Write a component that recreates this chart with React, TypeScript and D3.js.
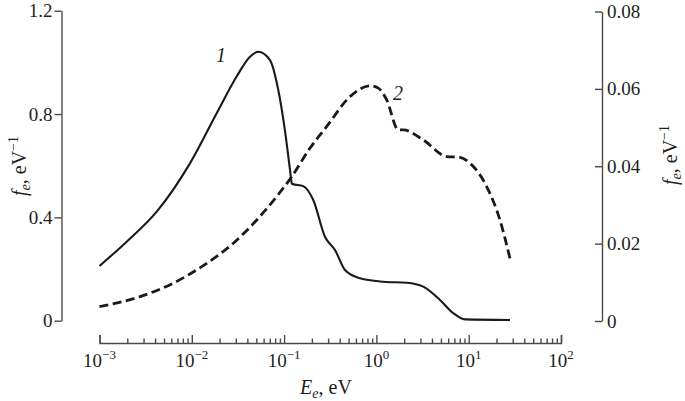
import React, { useEffect, useRef } from 'react';
import * as d3 from 'd3';

// Curve 1 (left axis)
const energy1 = [0.001, 0.00197, 0.00417, 0.00955, 0.0186, 0.0306, 0.0427, 0.0525, 0.0703, 0.0865, 0.102, 0.116, 0.121, 0.123, 0.161, 0.207, 0.277, 0.356, 0.457, 0.664, 1.19, 2.13, 3.22, 4.89, 6.81, 9.12, 28.0];
const fe1 = [0.212, 0.306, 0.422, 0.609, 0.803, 0.945, 1.022, 1.041, 1.009, 0.893, 0.738, 0.583, 0.532, 0.529, 0.521, 0.467, 0.325, 0.274, 0.196, 0.164, 0.151, 0.147, 0.132, 0.080, 0.029, 0.005, 0.003];

// Curve 2 (right axis)
const energy2 = [0.001, 0.00275, 0.00631, 0.0145, 0.0282, 0.0505, 0.0832, 0.121, 0.191, 0.290, 0.518, 0.853, 1.05, 1.29, 1.73, 1.95, 3.22, 5.78, 8.05, 10.3, 15.7, 21.8, 28.0];
const fe2 = [0.0037, 0.0063, 0.0098, 0.0149, 0.0201, 0.0261, 0.0322, 0.0373, 0.0447, 0.0503, 0.0580, 0.0608, 0.0602, 0.0572, 0.0494, 0.0494, 0.0468, 0.0425, 0.0423, 0.0408, 0.0347, 0.0261, 0.0162];

const xDecades = [1e-3, 1e-2, 1e-1, 1, 10, 100];
const xExponents = ['−3', '−2', '−1', '0', '1', '2'];
const leftTicks = [0, 0.4, 0.8, 1.2];
const leftTickLabels = ['0', '0.4', '0.8', '1.2'];
const rightTicks = [0, 0.02, 0.04, 0.06, 0.08];
const rightTickLabels = ['0', '0.02', '0.04', '0.06', '0.08'];
const curveLabelText = ['1', '2'];
const curveLabelE = [0.0207, 1.71];
const curveLabelF = [1.0, 0.0572];

const FONT = '"Liberation Serif", "Times New Roman", serif';

export default function App() {
  const ref = useRef<SVGSVGElement>(null);

  useEffect(() => {
    const svg = d3.select(ref.current);
    svg.selectAll('*').remove();

    const x = d3.scaleLog().domain([1e-3, 1e2]).range([99.5, 561]);
    const yL = d3.scaleLinear().domain([0, 1.2]).range([320.7, 10.7]);
    const yR = d3.scaleLinear().domain([0, 0.08]).range([321, 11.5]);
    const axisColor = '#4a4a4a';
    const textColor = '#1e1e1e';

    // Bottom axis
    const minor: number[] = [];
    for (let d = -3; d < 2; d++) {
      for (let m = 2; m <= 9; m++) minor.push(m * Math.pow(10, d));
    }
    const gx = svg.append('g').attr('transform', 'translate(0,343)');
    gx.call(
      d3.axisBottom(x).tickValues(xDecades).tickSizeInner(-8).tickSizeOuter(-8).tickFormat(() => '')
    );
    const gxm = svg.append('g').attr('transform', 'translate(0,343)');
    gxm.call(d3.axisBottom(x).tickValues(minor).tickSize(-4.5).tickFormat(() => ''));
    gxm.select('.domain').remove();
    [gx, gxm].forEach((g) => {
      g.selectAll('path, line').attr('stroke', axisColor).attr('stroke-width', 1.4);
    });

    const xl = svg.append('g');
    xDecades.forEach((v, i) => {
      const t = xl.append('text')
        .attr('x', x(v))
        .attr('y', 367)
        .attr('text-anchor', 'middle')
        .attr('font-family', FONT)
        .attr('font-size', 19)
        .attr('fill', textColor);
      t.append('tspan').text('10');
      t.append('tspan').attr('dy', -8).attr('font-size', 13).text(xExponents[i]);
    });

    // Left axis
    const gl = svg.append('g').attr('transform', 'translate(61.5,0)');
    gl.call(
      d3.axisLeft(yL).tickValues(leftTicks).tickSize(7).tickSizeOuter(0).tickPadding(2)
        .tickFormat((d, i) => leftTickLabels[i])
    );
    gl.selectAll('path, line').attr('stroke', axisColor).attr('stroke-width', 1.4);
    gl.selectAll('text').attr('font-family', FONT).attr('font-size', 19).attr('fill', textColor);

    // Right axis
    const gr = svg.append('g').attr('transform', 'translate(602,0)');
    gr.call(
      d3.axisRight(yR).tickValues(rightTicks).tickSizeInner(-7).tickSizeOuter(0).tickPadding(5)
        .tickFormat((d, i) => rightTickLabels[i])
    );
    gr.selectAll('path, line').attr('stroke', axisColor).attr('stroke-width', 1.4);
    gr.selectAll('text').attr('font-family', FONT).attr('font-size', 19).attr('fill', textColor);

    // Curves
    const pts1 = energy1.map((e, i) => [e, fe1[i]] as [number, number]);
    const pts2 = energy2.map((e, i) => [e, fe2[i]] as [number, number]);
    const line1 = d3.line<[number, number]>().x((d) => x(d[0])).y((d) => yL(d[1])).curve(d3.curveMonotoneX);
    const line2 = d3.line<[number, number]>().x((d) => x(d[0])).y((d) => yR(d[1])).curve(d3.curveMonotoneX);

    svg.append('path').attr('d', line1(pts1)).attr('fill', 'none').attr('stroke', '#1a1a1a').attr('stroke-width', 2.1);
    svg.append('path').attr('d', line2(pts2)).attr('fill', 'none').attr('stroke', '#1a1a1a')
      .attr('stroke-width', 2.8).attr('stroke-dasharray', '9,4.5');

    // Curve labels
    const yScales = [yL, yR];
    curveLabelText.forEach((t, i) => {
      svg.append('text')
        .attr('x', x(curveLabelE[i]))
        .attr('y', yScales[i](curveLabelF[i]))
        .attr('text-anchor', 'middle')
        .attr('font-family', FONT)
        .attr('font-style', 'italic')
        .attr('font-size', 20)
        .attr('fill', textColor)
        .text(t);
    });

    // Axis titles
    const yTitle = (tx: number, ty: number) => {
      const t = svg.append('text')
        .attr('transform', `translate(${tx},${ty}) rotate(-90)`)
        .attr('text-anchor', 'middle')
        .attr('font-family', FONT)
        .attr('font-size', 20)
        .attr('fill', textColor);
      t.append('tspan').attr('font-style', 'italic').text('f');
      t.append('tspan').attr('font-style', 'italic').attr('font-size', 14).attr('dy', 4).text('e');
      t.append('tspan').attr('dy', -4).text(', eV');
      t.append('tspan').attr('font-size', 14).attr('dy', -8).text('−1');
    };
    yTitle(26, 166);
    yTitle(677, 155);

    const xt = svg.append('text')
      .attr('x', 326)
      .attr('y', 394)
      .attr('text-anchor', 'middle')
      .attr('font-family', FONT)
      .attr('font-size', 20)
      .attr('fill', textColor);
    xt.append('tspan').attr('font-style', 'italic').text('E');
    xt.append('tspan').attr('font-style', 'italic').attr('font-size', 14).attr('dy', 4).text('e');
    xt.append('tspan').attr('dy', -4).text(', eV');
  }, []);

  return (
    <svg
      ref={ref}
      width={685}
      height={401}
      style={{ position: 'absolute', left: 0, top: 0, background: '#fff' }}
    />
  );
}
